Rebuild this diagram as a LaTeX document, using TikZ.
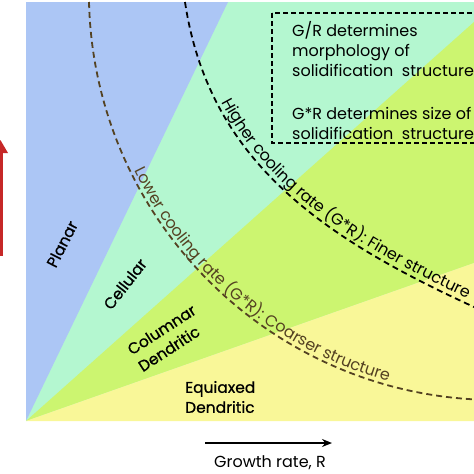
\documentclass[tikz,border=0pt]{standalone}
\usepackage{fontspec}
\setmainfont{Poppins}
\newfontfamily\labelfont{Poppins}[FakeBold=0.8]
\usetikzlibrary{arrows.meta}
\usetikzlibrary{decorations.text}

\definecolor{planarblue}{RGB}{172,198,245}
\definecolor{cellmint}{RGB}{180,247,208}
\definecolor{colgreen}{RGB}{204,245,112}
\definecolor{equiyellow}{RGB}{249,247,152}
\definecolor{lowbrown}{RGB}{84,66,34}
\definecolor{gradred}{RGB}{198,40,40}

\tikzset{
  region/.style={font=\labelfont\fontsize{15.5}{20}\selectfont, align=left, inner sep=0pt},
  plain/.style={font=\fontsize{16}{20}\selectfont, align=left, inner sep=0pt},
  rateline/.style={dash pattern=on 6pt off 4pt, line width=1.8pt},
  boxline/.style={dash pattern=on 5pt off 3pt, line width=1.6pt},
}

\begin{document}
\begin{tikzpicture}[x=1pt,y=-1pt]
\useasboundingbox (0,0) rectangle (474,474);
\coordinate (o) at (26,421);
\fill[cellmint] (26,2) rectangle (474,421);
\foreach \col/\p/\q in {planarblue/{26,2}/{228,2}, colgreen/{474,22}/{474,263}, equiyellow/{474,263}/{474,421}} {
  \fill[\col] (o) -- (\p) -- (\q) -- cycle;
}

\draw[lowbrown, rateline, postaction={decorate, decoration={text along path, raise=4pt,
  text align={left indent=177pt},
  text={|\fontsize{16}{20}\selectfont\color{lowbrown}|Lower cooling rate (G*R): Coarser structure}}}]
  (89,2) arc[start angle=178.6, end angle=93.1, radius=408];
\draw[black, rateline, postaction={decorate, decoration={text along path, raise=5pt,
  text align={align=right, right indent=10pt},
  text={|\fontsize{16}{20}\selectfont|Higher cooling rate (G*R): Finer structure}}}]
  (185,2) .. controls (209,162) and (324,238) .. (474,307);

\draw[boxline] (272,13) rectangle (478,143);
\node[plain, anchor=north west] (info) at (292,21) {G/R determines\\morphology of\\solidification\ \ structure\\[23pt]G*R determines size of\\solidification\ \ structure};

\node[region, rotate=63] (planar) at (62,244) {Planar};
\node[region, rotate=52] (cellular) at (125,284) {Cellular};
\node[region, rotate=33] (columnar) at (167,338) {Columnar\\Dendritic};
\node[region, anchor=west] (equiaxed) at (185,397) {Equiaxed\\Dendritic};

\coordinate (gstart) at (205,443);
\coordinate (gend) at (332,443);
\draw[line width=1.5pt, -{Stealth[length=10pt,width=8pt]}] (gstart) -- (gend);
\node[plain] (growth) at (270,463) {Growth rate, R};

\coordinate (gbot) at (0.5,256);
\coordinate (gtop) at (0.5,140);
\draw[gradred, line width=5pt, -{Triangle[length=13pt,width=14pt]}] (gbot) -- (gtop);
\end{tikzpicture}
\end{document}
